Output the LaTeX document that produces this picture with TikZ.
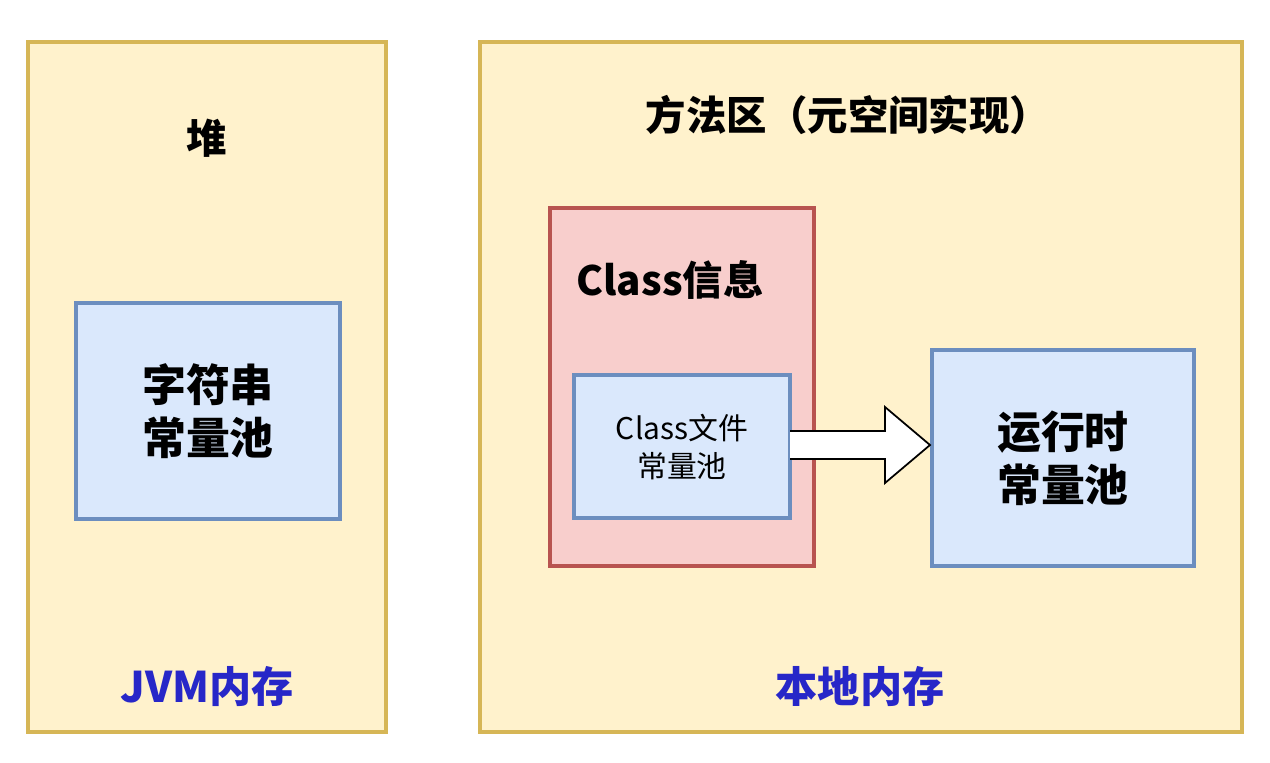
\documentclass[tikz,border=0pt]{standalone}
\usepackage{fontspec}
\newfontfamily\cjk{Noto Sans CJK SC}
\usetikzlibrary{positioning,calc}
\definecolor{yfill}{HTML}{FFF2CC}
\definecolor{ydraw}{HTML}{D6B656}
\definecolor{rfill}{HTML}{F8CECC}
\definecolor{rdraw}{HTML}{B85450}
\definecolor{bfill}{HTML}{DAE8FC}
\definecolor{bdraw}{HTML}{6C8EBF}
\definecolor{memblue}{HTML}{2727C8}
\begin{document}
\begin{tikzpicture}[x=0.02cm,y=-0.02cm]

\tikzstyle{area}=[rectangle, draw=ydraw, fill=yfill, line width=2pt]
\tikzstyle{classbox}=[rectangle, draw=rdraw, fill=rfill, line width=2pt]
\tikzstyle{pool}=[rectangle, draw=bdraw, fill=bfill, line width=2pt]
\tikzstyle{title}=[font=\cjk\bfseries\fontsize{23}{28}\selectfont]
\tikzstyle{pooltext}=[align=center, font=\cjk\bfseries\fontsize{25}{30}\selectfont]
\tikzstyle{memtext}=[text=memblue, font=\cjk\bfseries\fontsize{24}{28}\selectfont]

\useasboundingbox (0,0) rectangle (1270,762);

\draw [area] (28,42) rectangle (386,732);
\draw [area] (480,42) rectangle (1242,732);
\draw [classbox] (550,208) rectangle (814,566);
\draw [pool] (76,303) rectangle (340,519);
\draw [pool] (574,375) rectangle (790,518);
\draw [pool] (932,350) rectangle (1194,566);

\node (heap) [title] at (207,138) {堆};
\node (str) [pooltext] at (208,411) {字符串\\常量池};
\node (jvm) [memtext] at (207,686) {JVM内存};

\node (meta) [title] at (848,115) {方法区（元空间实现）};
\node (cinfo) [title] at (670,280) {Class信息};
\node (cfile) [align=center, font=\cjk\fontsize{17}{22}\selectfont] at (682,447) {Class文件\\常量池};
\node (run) [pooltext] at (1063,458) {运行时\\常量池};
\node (local) [memtext] at (860,686) {本地内存};

\coordinate (tail) at (790,445);
\coordinate (tip) at (930,445);
\draw [line width=1pt, fill=white]
  ($(tail)+(0,-14)$) -- ($(tip)+(-45,-14)$) -- ($(tip)+(-45,-38)$) -- (tip)
  -- ($(tip)+(-45,38)$) -- ($(tip)+(-45,14)$) -- ($(tail)+(0,14)$);

\end{tikzpicture}
\end{document}
